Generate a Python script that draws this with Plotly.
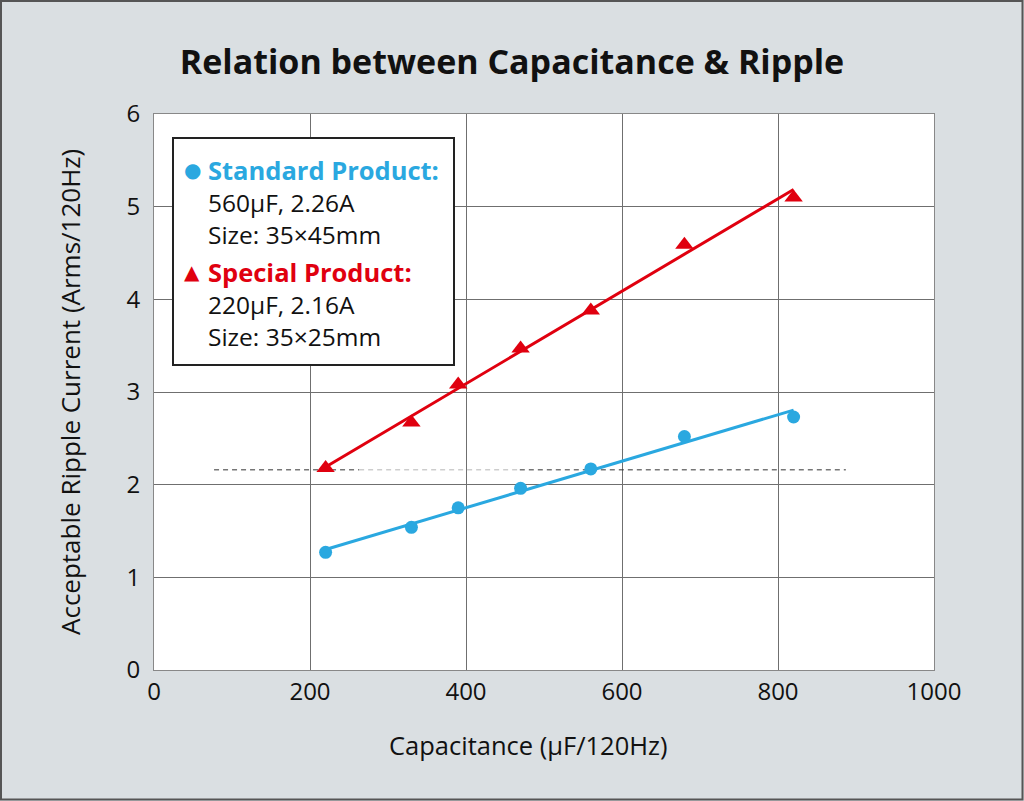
import numpy as np
import plotly.graph_objects as go

# ---- data ----
capacitance = [220, 330, 390, 470, 560, 680, 820]
standard_ripple = [1.27, 1.54, 1.75, 1.96, 2.17, 2.52, 2.73]
special_ripple = [2.18, 2.67, 3.08, 3.47, 3.88, 4.59, 5.10]
reference_level = 2.16
reference_x = [77, 887]
x_ticks = [0, 200, 400, 600, 800, 1000]
y_ticks = [0, 1, 2, 3, 4, 5, 6]

title_text = "Relation between Capacitance & Ripple"
x_title = "Capacitance (µF/120Hz)"
y_title = "Acceptable Ripple Current (Arms/120Hz)"
legend_standard = ["Standard Product:", "560µF, 2.26A", "Size: 35×45mm"]
legend_special = ["Special Product:", "220µF, 2.16A", "Size: 35×25mm"]

BLUE = "#2aa8e0"
RED = "#e0000f"
BG = "#dadfe2"
FONT = "Open Sans"

W, H = 1024, 801
ML, MR, MT, MB = 154, 90, 114, 131
PW, PH = W - ML - MR, H - MT - MB


def px2paper_x(px):
    return (px - ML) / PW


def px2paper_y(py):
    return (H - MB - py) / PH


fig = go.Figure()

# reference dashed line (split: dark / light / dark as in picture)
xr0, xr1 = reference_x
seg_split = [xr0, 263, 469, xr1]
seg_cols = ["#333333", "#b5b5b5", "#333333"]
for i in range(3):
    fig.add_trace(go.Scatter(
        x=[seg_split[i], seg_split[i + 1]], y=[reference_level, reference_level],
        mode="lines", line=dict(color=seg_cols[i], width=1, dash="5px,4px"),
        hoverinfo="skip", showlegend=False, cliponaxis=False))

# trend lines from least-squares fit
xs = np.array(capacitance, dtype=float)
for ys, col in [(standard_ripple, BLUE), (special_ripple, RED)]:
    k, b = np.polyfit(xs, np.array(ys), 1)
    xe = np.array([xs.min(), xs.max()])
    fig.add_trace(go.Scatter(x=xe, y=k * xe + b, mode="lines",
                             line=dict(color=col, width=3),
                             hoverinfo="skip", showlegend=False))

fig.add_trace(go.Scatter(x=capacitance, y=standard_ripple, mode="markers",
                         marker=dict(symbol="circle", size=13, color=BLUE),
                         showlegend=False))
fig.add_trace(go.Scatter(x=capacitance, y=special_ripple, mode="markers",
                         marker=dict(symbol="triangle-up", size=16, color=RED),
                         showlegend=False))

shapes = []
# legend box
shapes.append(dict(type="rect", xref="paper", yref="paper",
                   x0=px2paper_x(173), x1=px2paper_x(454),
                   y0=px2paper_y(365), y1=px2paper_y(138),
                   line=dict(color="#222222", width=2), fillcolor="white", layer="above"))
# outer figure border
shapes.append(dict(type="rect", xref="paper", yref="paper",
                   x0=px2paper_x(1), x1=px2paper_x(W - 1.5),
                   y0=px2paper_y(H - 1.5), y1=px2paper_y(1),
                   line=dict(color="#555555", width=2), layer="below"))

annotations = []
rows = [
    (legend_standard, BLUE, 170, "●"),
    (legend_special, RED, 272, "▲"),
]
for lines, col, yh, sym in rows:
    annotations.append(dict(xref="paper", yref="paper", x=px2paper_x(192),
                            y=px2paper_y(yh), text=sym, showarrow=False,
                            xanchor="center", yanchor="middle",
                            font=dict(color=col, size=20, family="DejaVu Sans")))
    txt = ("<span style='color:%s;font-size:25.5px'><b>%s</b></span><br>" % (col, lines[0])
           + "<br>".join(lines[1:]))
    annotations.append(dict(xref="paper", yref="paper", x=px2paper_x(206),
                            y=px2paper_y(yh + 32), text=txt,
                            showarrow=False, xanchor="left", yanchor="middle",
                            align="left",
                            font=dict(color="#111111", size=24.5, family=FONT)))

# axis titles
annotations.append(dict(xref="paper", yref="paper", x=px2paper_x(528),
                        y=px2paper_y(745), text=x_title, showarrow=False,
                        xanchor="center", yanchor="middle",
                        font=dict(size=25.5, color="#111111", family=FONT)))
annotations.append(dict(xref="paper", yref="paper", x=px2paper_x(70),
                        y=px2paper_y(392), text=y_title, showarrow=False,
                        textangle=-90, xanchor="center", yanchor="middle",
                        font=dict(size=26, color="#111111", family=FONT)))

fig.update_layout(
    width=W, height=H,
    margin=dict(l=ML, r=MR, t=MT, b=MB),
    paper_bgcolor=BG, plot_bgcolor="white",
    font=dict(family=FONT, color="#111111", size=24),
    title=dict(text="<b>" + title_text + "</b>", x=px2paper_x(512), xref="paper",
               xanchor="center", y=1 - 62 / H, yanchor="middle",
               font=dict(size=34, color="#111111", family=FONT)),
    shapes=shapes, annotations=annotations,
    showlegend=False,
)
fig.update_xaxes(range=[0, 1000], tickvals=x_ticks, showgrid=True,
                 gridcolor="#6f6f6f", gridwidth=1, showline=True, linecolor="#888888",
                 linewidth=1, mirror=True, zeroline=False, ticks="",
                 tickfont=dict(size=24))
fig.update_yaxes(range=[0, 6], tickvals=y_ticks, showgrid=True,
                 gridcolor="#6f6f6f", gridwidth=1, showline=True, linecolor="#888888",
                 linewidth=1, mirror=True, zeroline=False, ticks="",
                 ticklabelstandoff=8,
                 tickfont=dict(size=24))

fig.write_html("out.html", config={"displayModeBar": False},
               post_script="document.body.style.margin='0';document.body.style.overflow='hidden';")
